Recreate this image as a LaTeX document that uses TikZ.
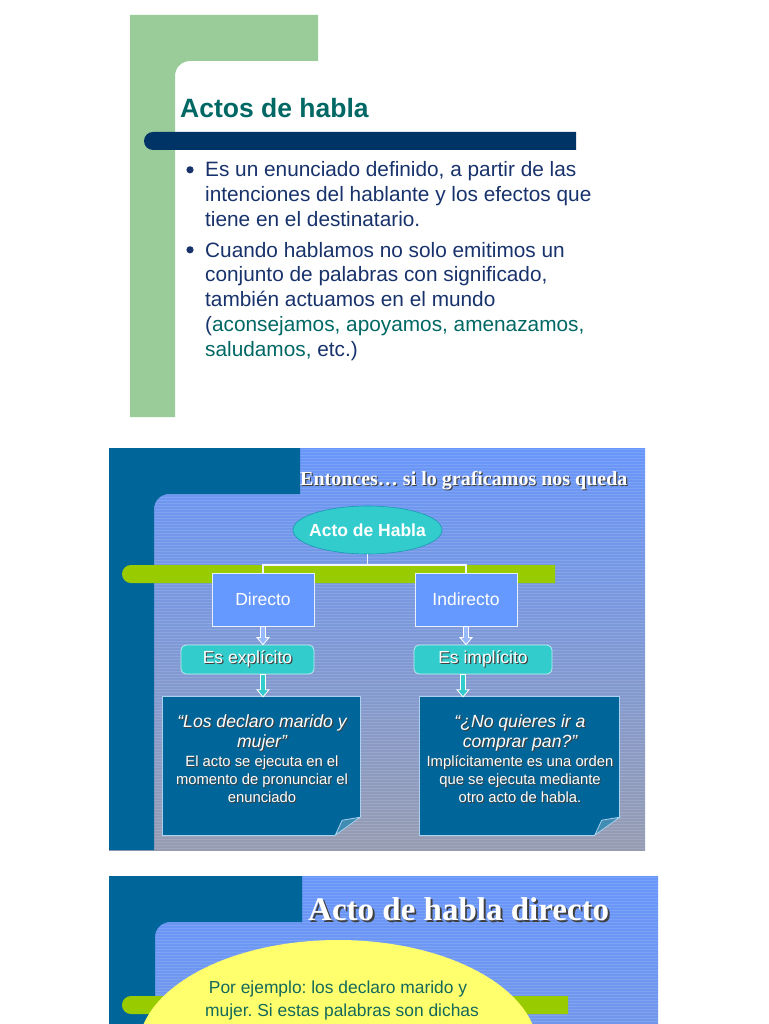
\documentclass[tikz,border=0pt]{standalone}
\usepackage{fontspec}
\setmainfont{Liberation Sans}
\newfontfamily\titleserif{Liberation Serif}
\usetikzlibrary{shapes.geometric,calc}
\frenchspacing
\definecolor{sagegreen}{RGB}{153,204,153}
\definecolor{navybar}{RGB}{0,51,102}
\definecolor{tealtitle}{RGB}{0,104,100}
\definecolor{bullettext}{RGB}{24,50,108}
\definecolor{darkband}{RGB}{0,102,153}
\definecolor{skyblue}{RGB}{104,150,250}
\definecolor{grayblue}{RGB}{150,156,178}
\definecolor{limebar}{RGB}{153,204,0}
\definecolor{turq}{RGB}{51,204,204}
\definecolor{boxblue}{RGB}{102,153,255}
\definecolor{notebox}{RGB}{0,102,153}
\definecolor{paleline}{RGB}{170,210,240}
\definecolor{arrowpale}{RGB}{150,185,255}
\definecolor{sunyellow}{RGB}{255,255,110}
\definecolor{textteal}{RGB}{20,105,90}
\newcommand\shadowed[2][1.2pt]{\makebox[0pt][l]{\hspace{#1}\raisebox{-#1}{\textcolor{black!75}{#2}}}#2}
\newcommand\blockarrow[3]{%
  \path[draw=white, line width=0.8pt, fill=#1] let \p1=#2, \p2=#3 in
  (\x1-2.5pt,\y1) -- (\x1+2.5pt,\y1) -- (\x1+2.5pt,\y2+7pt) -- (\x1+6pt,\y2+7pt)
  -- (\x1,\y2) -- (\x1-6pt,\y2+7pt) -- (\x1-2.5pt,\y2+7pt) -- cycle;}
\tikzset{
  bline/.style={anchor=base west, inner sep=0, text=bullettext, font=\fontsize{20.8}{25}\selectfont},
  treebox/.style={fill=boxblue, draw=white!85!boxblue, line width=0.9pt, minimum width=102, minimum height=53, inner sep=0, text=white, font=\fontsize{17.5}{20}\selectfont},
  pillbox/.style={rounded corners=5pt, fill=turq, draw=white!65!turq, line width=0.8pt, minimum height=29, inner sep=0, text=white, font=\fontsize{17.5}{20}\selectfont},
  notearea/.style={inner sep=0, minimum width=197, minimum height=138},
  noteital/.style={anchor=base, inner sep=0, text=white, font=\itshape\fontsize{17.6}{20}\selectfont},
  noteplain/.style={anchor=base, inner sep=0, text=white, font=\fontsize{14.8}{18}\selectfont},
  treeline/.style={draw=white!90!boxblue, line width=1.1pt},
  stripe/.style={white, opacity=0.12, line width=0.6pt},
  yline/.style={anchor=base, inner sep=0, text=textteal, font=\fontsize{17.4}{22}\selectfont}
}
\begin{document}
\begin{tikzpicture}[x=1pt,y=-1pt]
\useasboundingbox (0,0) rectangle (768,1024);
\clip (0,0) rectangle (768,1024);
\fill[white] (0,0) rectangle (768,1024);

% ---------------- Slide 1 ----------------
\fill[sagegreen] (130,15) -- (318,15) -- (318,61) -- (190,61)
  .. controls (181.7,61) and (175,67.7) .. (175,76) -- (175,417) -- (130,417) -- cycle;
\fill[navybar] (153,132) -- (576,132) -- (576,150) -- (153,150)
  .. controls (148,150) and (144,146) .. (144,141)
  .. controls (144,136) and (148,132) .. (153,132) -- cycle;
\node[anchor=base west, inner sep=0, text=tealtitle, font=\bfseries\fontsize{26.5}{30}\selectfont] (t1) at (180,118) {Actos de habla};
\fill[bullettext] (190,169.8) circle[radius=3.6pt];
\fill[bullettext] (190,249.8) circle[radius=3.6pt];
\node[bline] (l1) at (205,176.7) {Es un enunciado definido, a partir de las};
\node[bline] (l2) at (205,201.7) {intenciones del hablante y los efectos que};
\node[bline] (l3) at (205,226.7) {tiene en el destinatario.};
\node[bline] (l4) at (205,257) {Cuando hablamos no solo emitimos un};
\node[bline] (l5) at (205,281.9) {conjunto de palabras con significado,};
\node[bline] (l6) at (205,306.8) {también actuamos en el mundo};
\node[bline] (l7) at (205,331.7) {(\textcolor{tealtitle}{aconsejamos, apoyamos, amenazamos,}};
\node[bline] (l8) at (205,356.7) {\textcolor{tealtitle}{saludamos,} etc.)};

% ---------------- Slide 2 ----------------
\shade[top color=skyblue, bottom color=grayblue] (109,448) rectangle (645,850);
\begin{scope}
  \clip (109,448) rectangle (645,850);
  \foreach \k in {0,...,133} {\draw[stripe] (109,449.5+3*\k) -- (645,449.5+3*\k);}
\end{scope}
\fill[darkband] (109,448) -- (300,448) -- (300,494) -- (169,494)
  .. controls (160.7,494) and (154,500.7) .. (154,509) -- (154,850) -- (109,850) -- cycle;
\node[anchor=base west, inner sep=0, text=white, font=\titleserif\bfseries\fontsize{20}{24}\selectfont] (t2) at (300,485) {\shadowed{Entonces… si lo graficamos nos queda}};
\fill[limebar] (131,565) -- (555,565) -- (555,583) -- (131,583)
  .. controls (126,583) and (122,579) .. (122,574)
  .. controls (122,569) and (126,565) .. (131,565) -- cycle;

\node[ellipse, fill=turq, draw=darkband!50!turq, line width=0.6pt, minimum width=149, minimum height=48, inner sep=0] (acto) at (367.5,530) {};
\node[inner sep=0, text=white, font=\bfseries\fontsize{17.5}{20}\selectfont] (actotxt) at (acto.center) {Acto de Habla};
\node[treebox] (dir) at (263,599.5) {Directo};
\node[treebox] (ind) at (466,599.5) {Indirecto};
\coordinate (hub) at (367.5,565);
\draw[treeline] (acto.south) -- (hub);
\draw[treeline] (dir.north) |- (hub) -| (ind.north);

\node[pillbox, minimum width=133] (exp) at (247.5,659.5) {\shadowed{Es explícito}};
\node[pillbox, minimum width=138] (imp) at (483,659.5) {\shadowed{Es implícito}};

\blockarrow{arrowpale}{(dir.south)}{(dir.south |- exp.north)}
\blockarrow{arrowpale}{(ind.south)}{(ind.south |- imp.north)}

\node[notearea] (ej1) at (261.5,766) {};
\node[notearea, minimum width=200] (ej2) at (519.5,766) {};
\foreach \b in {ej1,ej2} {
  \coordinate (\b f1) at ($(\b.south east)+(-25,0)$);
  \coordinate (\b f2) at ($(\b.south east)+(0,-18)$);
  \fill[notebox] (\b.north west) -- (\b.north east) -- (\b f2) -- (\b f1) -- (\b.south west) -- cycle;
  \draw[paleline, line width=0.8pt] (\b f2) -- (\b.north east) -- (\b.north west) -- (\b.south west) -- (\b f1);
  \draw[paleline, line width=0.8pt, fill=notebox!75!white] (\b f1) .. controls ($(\b f1)+(3,-8)$) .. ($(\b f1)+(7,-15)$) -- (\b f2) -- cycle;
}
\blockarrow{turq}{(dir.south |- exp.south)}{(dir.south |- ej1.north)}
\blockarrow{turq}{($(ind.south |- imp.south)+(-3,0)$)}{($(ind.south |- ej2.north)+(-3,0)$)}

\node[noteital] (e1a) at (262,727) {\shadowed{“Los declaro marido y}};
\node[noteital] (e1b) at (262,747) {\shadowed{mujer”}};
\node[noteplain] (e1c) at (262,766) {\shadowed[1pt]{El acto se ejecuta en el}};
\node[noteplain] (e1d) at (262,784) {\shadowed[1pt]{momento de pronunciar el}};
\node[noteplain] (e1e) at (262,802) {\shadowed[1pt]{enunciado}};
\node[noteital] (e2a) at (520,727) {\shadowed{“¿No quieres ir a}};
\node[noteital] (e2b) at (520,747) {\shadowed{comprar pan?”}};
\node[noteplain] (e2c) at (520,766) {\shadowed[1pt]{Implícitamente es una orden}};
\node[noteplain] (e2d) at (520,784) {\shadowed[1pt]{que se ejecuta mediante}};
\node[noteplain] (e2e) at (520,802) {\shadowed[1pt]{otro acto de habla.}};

% ---------------- Slide 3 ----------------
\shade[top color=skyblue, bottom color=skyblue!80!grayblue] (109,876) rectangle (658,1024);
\begin{scope}
  \clip (109,876) rectangle (658,1024);
  \foreach \k in {0,...,50} {\draw[stripe] (109,877.5+3*\k) -- (658,877.5+3*\k);}
\end{scope}
\fill[darkband] (109,876) -- (302,876) -- (302,922) -- (170,922)
  .. controls (161.7,922) and (155,928.7) .. (155,937) -- (155,1030) -- (109,1030) -- cycle;
\node[anchor=base west, inner sep=0, text=white, font=\titleserif\bfseries\fontsize{33}{36}\selectfont] (t3) at (308,920) {\shadowed[2pt]{Acto de habla directo}};
\fill[limebar] (131,996) -- (568,996) -- (568,1014) -- (131,1014)
  .. controls (126,1014) and (122,1010) .. (122,1005)
  .. controls (122,1000) and (126,996) .. (131,996) -- cycle;
\node[ellipse, fill=sunyellow, minimum width=400, minimum height=220, inner sep=0] (ej3) at (338,1050) {};
\node[yline] (y1) at (338,993) {Por ejemplo: los declaro marido y};
\node[yline] (y2) at (342,1016) {mujer. Si estas palabras son dichas};
\end{tikzpicture}
\end{document}
